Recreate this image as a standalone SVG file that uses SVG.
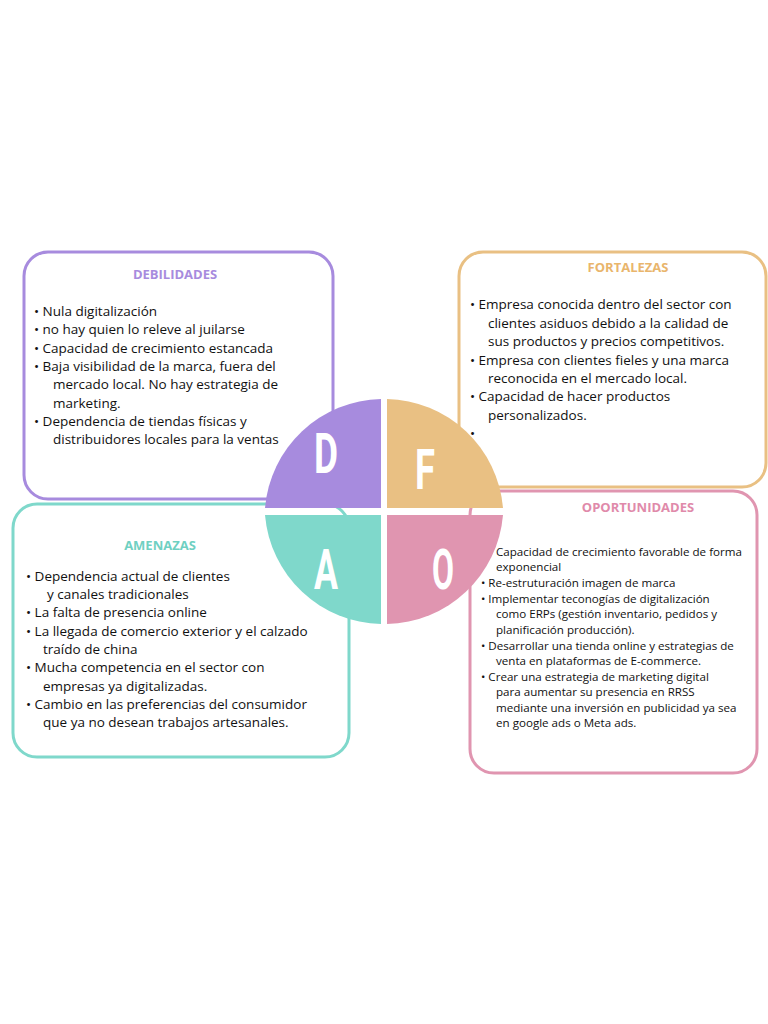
<svg xmlns="http://www.w3.org/2000/svg" width="768" height="1024" viewBox="0 0 768 1024">
<style>
.b{fill:#fff;stroke-width:3}
.t{font-family:"Open Sans",sans-serif;font-size:13.5px;fill:#111}
.s{font-family:"Open Sans",sans-serif;font-size:11.6px;fill:#111}
.h{font-family:"Open Sans",sans-serif;font-size:13px;font-weight:bold;text-anchor:middle}
.L{font-family:Roboto,sans-serif;font-size:56px;font-weight:bold;fill:#fff;text-anchor:middle}
</style>
<rect width="768" height="1024" fill="#fff"/>
<g id="debilidades">
<rect class="b" x="24" y="252" width="309" height="247" rx="24" stroke="#a78bde"/>
<text class="h" x="175" y="279" fill="#a78bde">DEBILIDADES</text>
<g class="t">
<text x="34" y="316">•   Nula digitalización</text>
<text x="34" y="334">•  no hay quien lo releve al juilarse</text>
<text x="34" y="353">•  Capacidad de crecimiento estancada</text>
<text x="34" y="371">•  Baja visibilidad de la marca, fuera del</text>
<text x="53" y="389">mercado local. No hay estrategia de</text>
<text x="53" y="408">marketing.</text>
<text x="34" y="426">•  Dependencia de tiendas físicas y</text>
<text x="53" y="444">distribuidores locales para la ventas</text>
</g>
</g>
<g id="fortalezas">
<rect class="b" x="459" y="252" width="307" height="235" rx="24" stroke="#e9c083"/>
<text class="h" x="628" y="272" fill="#e9b56c">FORTALEZAS</text>
<g class="t">
<text x="470" y="309">•  Empresa conocida dentro del sector con</text>
<text x="488" y="328">clientes asiduos debido a la calidad de</text>
<text x="488" y="346">sus productos y precios competitivos.</text>
<text x="470" y="365">•  Empresa con clientes fieles y una marca</text>
<text x="488" y="383">reconocida en el mercado local.</text>
<text x="470" y="401">•  Capacidad de hacer productos</text>
<text x="488" y="420">personalizados.</text>
<text x="470" y="438">•</text>
</g>
</g>
<g id="amenazas">
<rect class="b" x="13" y="504" width="336" height="253" rx="24" stroke="#7fd8cb"/>
<text class="h" x="160" y="550" fill="#6fd0c2">AMENAZAS</text>
<g class="t">
<text x="26" y="581">•  Dependencia actual de clientes</text>
<text x="47" y="599">y canales tradicionales</text>
<text x="26" y="617">•  La falta de presencia online</text>
<text x="26" y="636">•  La llegada de comercio exterior y el calzado</text>
<text x="43" y="654">traído de china</text>
<text x="26" y="672">•  Mucha competencia en el sector con</text>
<text x="43" y="691">empresas ya digitalizadas.</text>
<text x="26" y="709">•  Cambio en las preferencias del consumidor</text>
<text x="43" y="727">que ya no desean trabajos artesanales.</text>
</g>
</g>
<g id="oportunidades">
<rect class="b" x="470" y="491" width="287" height="282" rx="24" stroke="#e095b0"/>
<text class="h" x="638" y="512" fill="#e08aaa">OPORTUNIDADES</text>
<g class="s">
<text x="496" y="556">Capacidad de crecimiento favorable de forma</text>
<text x="496" y="571">exponencial</text>
<text x="481" y="587">•  Re-estruturación imagen de marca</text>
<text x="481" y="603">•  Implementar teconogías de digitalización</text>
<text x="496" y="618">como ERPs (gestión inventario, pedidos y</text>
<text x="496" y="634">planificación producción).</text>
<text x="481" y="650">•  Desarrollar una tienda online y estrategias de</text>
<text x="496" y="665">venta en plataformas de E-commerce.</text>
<text x="481" y="681">•  Crear una estrategia de marketing digital</text>
<text x="496" y="696">para aumentar su presencia en RRSS</text>
<text x="496" y="712">mediante una inversión en publicidad ya sea</text>
<text x="496" y="727">en google ads o Meta ads.</text>
</g>
</g>
<g id="circle">
<path d="M381,508 L265,508 A119,119 0 0 1 381,399 Z" fill="#a78bde"/>
<path d="M387,508 L503,508 A119,119 0 0 0 387,399 Z" fill="#e9c083"/>
<path d="M381,515 L265,515 A119,119 0 0 0 381,624 Z" fill="#7fd8cb"/>
<path d="M387,515 L503,515 A119,119 0 0 1 387,624 Z" fill="#e095b0"/>
<text class="L" x="326" y="473" textLength="24" lengthAdjust="spacingAndGlyphs">D</text>
<text class="L" x="425" y="489" textLength="20" lengthAdjust="spacingAndGlyphs">F</text>
<text class="L" x="326" y="589" textLength="24" lengthAdjust="spacingAndGlyphs">A</text>
<text class="L" x="443" y="589" textLength="22" lengthAdjust="spacingAndGlyphs">O</text>
</g>
<g id="connectors"/>
</svg>
